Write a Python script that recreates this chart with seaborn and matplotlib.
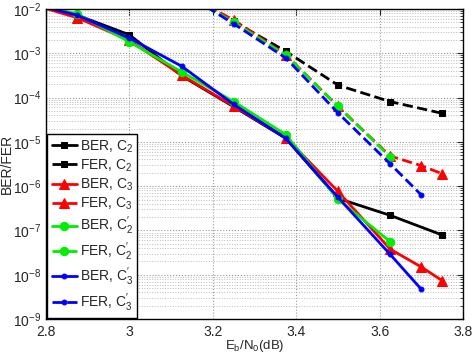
import numpy as np
import pandas as pd
import matplotlib
matplotlib.use("Agg")
import matplotlib.pyplot as plt
import seaborn as sns
from matplotlib.ticker import LogLocator, NullFormatter

# Eb/N0 points (dB)
ebn0_ber = [2.75, 2.875, 3.0, 3.125, 3.25, 3.375, 3.5, 3.625, 3.7, 3.75]
ebn0_fer = [3.125, 3.25, 3.375, 3.5, 3.625, 3.7, 3.75]

# BER curves (nan = no point)
ber_c2 = [1.4e-2, 7.2e-3, 2.6e-3, 3.1e-4, 6.2e-5, 1.2e-5, 5.3e-7, 2.2e-7, np.nan, 7.9e-8]
ber_c3 = [1.4e-2, 6.3e-3, 1.95e-3, 3.2e-4, 6.4e-5, 1.25e-5, 7.6e-7, 3.8e-8, 1.5e-8, 7.4e-9]
ber_c2p = [1.4e-2, 7.7e-3, 1.8e-3, 3.8e-4, 8.1e-5, 1.45e-5, 5.1e-7, 5.6e-8, np.nan, np.nan]
ber_c3p = [1.4e-2, 7.2e-3, 2.2e-3, 5.1e-4, 7.0e-5, 1.2e-5, 5.6e-7, 2.9e-8, 4.7e-9, np.nan]

# FER curves
fer_c2 = [2.4e-2, 5.2e-3, 1.1e-3, 1.9e-4, 8.1e-5, np.nan, 4.4e-5]
fer_c3 = [2.4e-2, 5.6e-3, 9.2e-4, 6.3e-5, 4.8e-6, 2.9e-6, 1.9e-6]
fer_c2p = [2.4e-2, 5.0e-3, 9.0e-4, 6.3e-5, 4.6e-6, np.nan, np.nan]
fer_c3p = [2.5e-2, 4.6e-3, 7.8e-4, 4.5e-5, 3.2e-6, 6.3e-7, np.nan]

labels = [r"BER, C$_2$", r"FER, C$_2$", r"BER, C$_3$", r"FER, C$_3$",
          r"BER, C$_2^{\prime}$", r"FER, C$_2^{\prime}$",
          r"BER, C$_3^{\prime}$", r"FER, C$_3^{\prime}$"]

sns.set_style("white")
plt.rcParams["font.family"] = ["Liberation Sans", "DejaVu Sans"]
plt.rcParams["mathtext.fontset"] = "custom"
plt.rcParams["mathtext.rm"] = "Liberation Sans"

fig = plt.figure(figsize=(4.74, 3.55), dpi=100)
ax = fig.add_axes([0.097, 0.101, 0.880, 0.874])

series = [
    (ebn0_ber, ber_c2, "black", "s", "-", 5),
    (ebn0_fer, fer_c2, "black", "s", "--", 5),
    (ebn0_ber, ber_c3, "red", "^", "-", 7),
    (ebn0_fer, fer_c3, "red", "^", "--", 7),
    (ebn0_ber, ber_c2p, "#00ee00", "o", "-", 6),
    (ebn0_fer, fer_c2p, "#00ee00", "o", "--", 6),
    (ebn0_ber, ber_c3p, "#0000ff", "o", "-", 3.5),
    (ebn0_fer, fer_c3p, "#0000ff", "o", "--", 3.5),
]

for (xs, ys, col, mk, ls, ms), lab in zip(series, labels):
    df = pd.DataFrame({"x": xs, "y": ys}).dropna()
    sns.lineplot(data=df, x="x", y="y", ax=ax, color=col, marker=mk,
                 linestyle=ls, linewidth=2, markersize=ms,
                 markeredgecolor=col, label=lab, clip_on=True)

ax.set_yscale("log")
ax.set_xlim(2.8, 3.8)
ax.set_ylim(1e-9, 1e-2)
ax.set_xticks([2.8, 3.0, 3.2, 3.4, 3.6, 3.8])
ax.set_xticklabels(["2.8", "3", "3.2", "3.4", "3.6", "3.8"])
ax.yaxis.set_major_locator(LogLocator(base=10, numticks=10))
ax.yaxis.set_minor_locator(LogLocator(base=10, subs=np.arange(2, 10), numticks=20))
ax.yaxis.set_minor_formatter(NullFormatter())

ax.grid(True, which="major", linestyle=":", color="#999999", linewidth=0.8)
ax.grid(True, which="minor", axis="y", linestyle=":", color="#bbbbbb", linewidth=0.7)
ax.tick_params(which="both", direction="in", top=True, right=True, labelsize=10)
ax.tick_params(which="major", length=4)
ax.tick_params(which="minor", length=2)
ax.tick_params(axis="x", pad=4)
for sp in ax.spines.values():
    sp.set_color("black")
    sp.set_linewidth(1)

ax.set_xlabel(r"E$_\mathrm{b}$/N$_\mathrm{0}$(dB)", fontsize=9.5)
ax.xaxis.set_label_coords(0.5, -0.062)
ax.set_ylabel("BER/FER", fontsize=10)
ax.yaxis.set_label_coords(-0.077, 0.5)

leg = ax.legend(loc="lower left", fontsize=10, frameon=True, fancybox=False,
                edgecolor="black", framealpha=1, borderaxespad=0.1,
                handlelength=1.8, labelspacing=0.2, borderpad=0.3,
                handletextpad=0.25)
leg.get_frame().set_linewidth(1)

fig.savefig("out.png", dpi=100)
